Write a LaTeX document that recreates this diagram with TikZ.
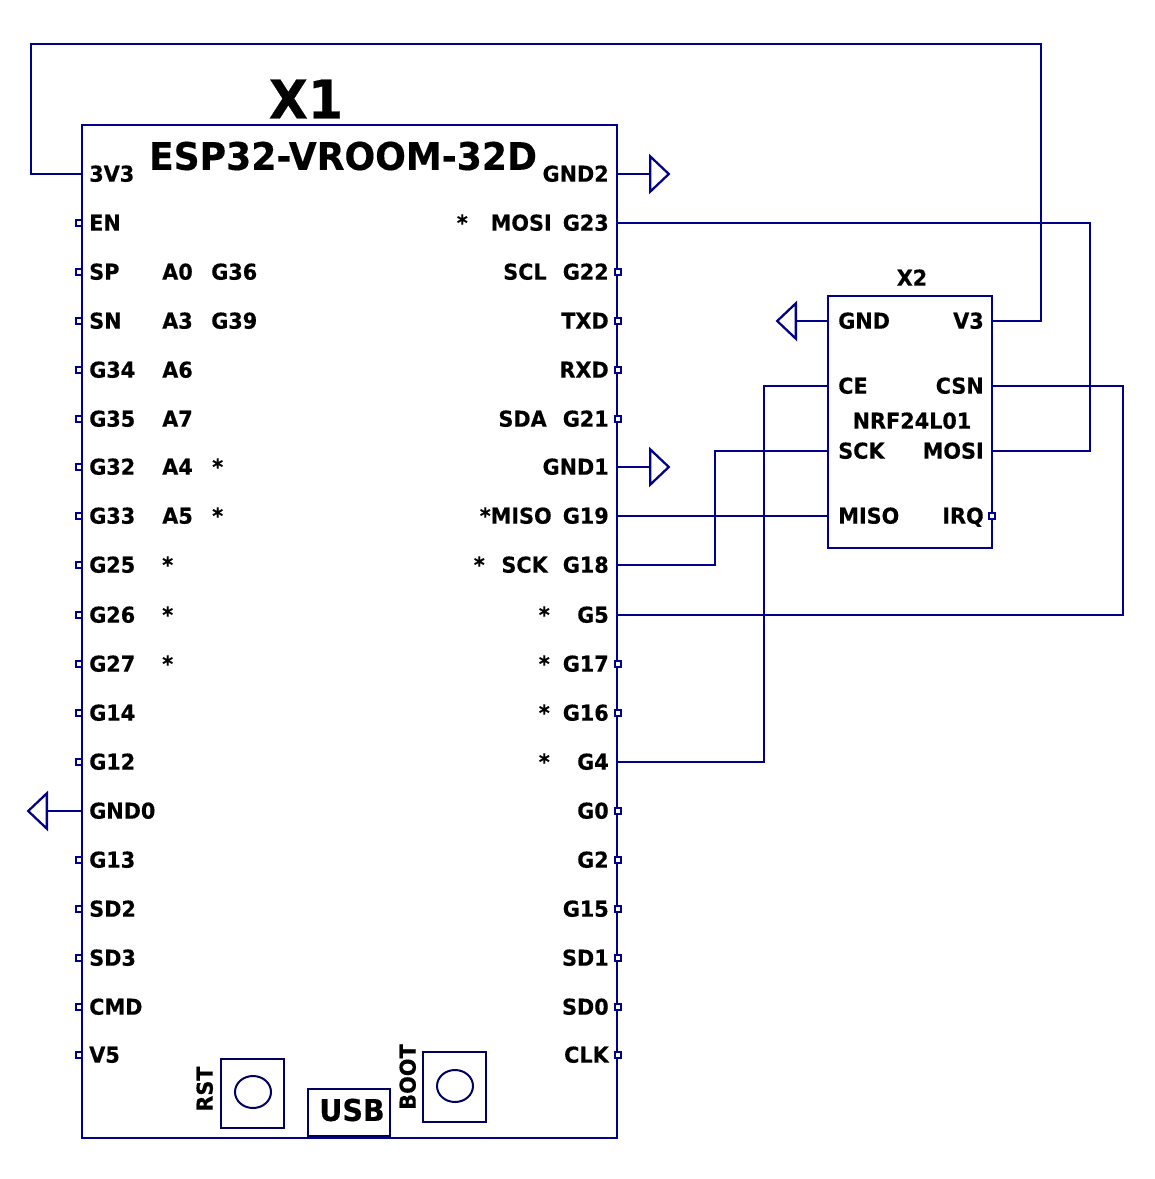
\documentclass[tikz,border=0pt]{standalone}
\usepackage{fontspec}
\setmainfont{DejaVu Sans}[FakeStretch=0.95,BoldFeatures={FakeBold=0.4}]
\usetikzlibrary{shapes.geometric}
\definecolor{wirecol}{RGB}{0,0,139}
\tikzset{
	part/.style={draw=wirecol,line width=1.7pt,inner sep=0pt},
	wire/.style={draw=wirecol,line width=1.7pt},
	plate/.style={draw=black!30!wirecol,line width=1.5pt},
	openpin/.style={draw=wirecol,line width=1.5pt,fill=white,rectangle,inner sep=0pt,minimum width=4.5pt,minimum height=4.5pt},
	gndmark/.style={draw=wirecol,line width=1.7pt,isosceles triangle,isosceles triangle apex angle=87,inner sep=0pt,minimum height=14pt,anchor=lower side},
	pintext/.style={inner sep=0pt,text height=11.5pt,text depth=0pt,font=\bfseries\fontsize{16.4}{17}\selectfont},
	pinleft/.style={pintext,anchor=west},
	pinright/.style={pintext,anchor=east}
}
\begin{document}
\begin{tikzpicture}[x=0.75pt,y=-0.75pt]
	\useasboundingbox (0,0) rectangle (1155,1179);

	% boards
	\node[part,minimum width=401.25pt,minimum height=759.75pt] (X1box) at (349.5,631.5) {};
	\node[part,minimum width=123pt,minimum height=189pt] (X2box) at (910,422) {};
	\node[font=\bfseries\fontsize{40}{41}\selectfont,inner sep=0pt] (X1) at (306,99) {X1};
	\node[font=\bfseries\fontsize{28.5}{29}\selectfont,inner sep=0pt] (X1name) at (343,156) {ESP32-VROOM-32D};
	\node[pintext,anchor=center] (X2) at (912,278) {X2};
	\node[pintext,anchor=center] (X2name) at (912,421) {NRF24L01};

	% left pins
	\foreach \y/\n in {174/3V3,223/EN,272/SP,321/SN,370/G34,419/G35,467/G32,516/G33,565/G25,615/G26,664/G27,713/G14,762/G12,811/GND0,860/G13,909/SD2,958/SD3,1007/CMD,1055/V5} {
		\coordinate (l\n) at (82,\y);
		\node[pinleft] (t\n) at (89,\y) {\n};
	}
	\foreach \n in {EN,SP,SN,G34,G35,G32,G33,G25,G26,G27,G14,G12,G13,SD2,SD3,CMD,V5}
		\node[openpin] (o\n) at ([xshift=-2.2pt]l\n) {};

	% right pins
	\foreach \y/\n in {174/GND2,223/G23,272/G22,321/TXD,370/RXD,419/G21,467/GND1,516/G19,565/G18,615/G5,664/G17,713/G16,762/G4,811/G0,860/G2,909/G15,958/SD1,1007/SD0,1055/CLK} {
		\coordinate (r\n) at (617,\y);
		\node[pinright] (t\n) at (609,\y) {\n};
	}
	\foreach \n in {G22,TXD,RXD,G21,G17,G16,G0,G2,G15,SD1,SD0,CLK}
		\node[openpin] (o\n) at ([xshift=0.8pt]r\n) {};

	% other functions of the pins
	\foreach \x/\y/\n/\t in {162/272/a0/A0,211/272/g36/G36,162/321/a3/A3,211/321/g39/G39,162/370/a6/A6,162/419/a7/A7,162/467/a4/A4,162/516/a5/A5,212/467/s1/*,212/516/s2/*,162/565/s3/*,162/615/s4/*,162/664/s5/*}
		\node[pinleft] (f\n) at (\x,\y) {\t};
	\foreach \x/\y/\n/\t in {552/223/mosi/MOSI,547/272/scl/SCL,547/419/sda/SDA,552/516/miso/*MISO,548/565/sck/SCK,468/223/s6/*,485/565/s7/*,550/615/s8/*,550/664/s9/*,550/713/s10/*,550/762/s11/*}
		\node[pinright] (f\n) at (\x,\y) {\t};

	% X2 pins
	\coordinate (xGND) at (828,321);
	\coordinate (xCE) at (828,386);
	\coordinate (xSCK) at (828,451);
	\coordinate (xMISO) at (828,516);
	\coordinate (xV3) at (992,321);
	\coordinate (xCSN) at (992,386);
	\coordinate (xMOSI) at (992,451);
	\coordinate (xIRQ) at (992,516);
	\foreach \y/\n in {321/GND,386/CE,451/SCK,516/MISO}
		\node[pinleft] (u\n) at (838,\y) {\n};
	\foreach \y/\n in {321/V3,386/CSN,451/MOSI,516/IRQ}
		\node[pinright] (u\n) at (984,\y) {\n};
	\node[openpin] (oIRQ) at (xIRQ) {};

	% ground marks
	\node[gndmark] (gnd2) at (649,174) {};
	\node[gndmark] (gnd1) at (649,467) {};
	\node[gndmark,rotate=180] (gnd0) at (48,811) {};
	\node[gndmark,rotate=180] (gndx) at (797,321) {};

	% nets
	\coordinate (vtop) at (31,44);
	\path[wire]
	(xV3) -- ++(49,0) |- (vtop) |- (l3V3)
	(rG23) -- ++(473,0) |- (xMOSI)
	(rG19) -- (xMISO)
	(rG18) -- ++(98,0) |- (xSCK)
	(rG5) -- ++(506,0) |- (xCSN)
	(rG4) -- ++(147,0) |- (xCE)
	(rGND2) -- (gnd2.lower side)
	(rGND1) -- (gnd1.lower side)
	(lGND0) -- (gnd0.lower side)
	(xGND) -- (gndx.lower side);

	% buttons and usb
	\node[plate,minimum width=47.25pt,minimum height=51.75pt,inner sep=0pt] (RSTbox) at (252.5,1093.5) {};
	\node[plate,ellipse,minimum width=27pt,minimum height=24pt,inner sep=0pt] (RSTbtn) at (253,1092) {};
	\node[plate,minimum width=47.25pt,minimum height=52.5pt,inner sep=0pt] (BOOTbox) at (454.5,1087) {};
	\node[plate,ellipse,minimum width=27pt,minimum height=24pt,inner sep=0pt] (BOOTbtn) at (455,1086) {};
	\node[plate,minimum width=61.5pt,minimum height=35.25pt,inner sep=0pt] (USBbox) at (349,1112.5) {};
	\node[font=\bfseries\fontsize{22.5}{23}\selectfont,inner sep=0pt] (USB) at (352,1110) {USB};
	\node[pintext,anchor=center,rotate=90] (RST) at (205,1089) {RST};
	\node[pintext,anchor=center,rotate=90] (BOOT) at (408,1077) {BOOT};
\end{tikzpicture}
\end{document}
